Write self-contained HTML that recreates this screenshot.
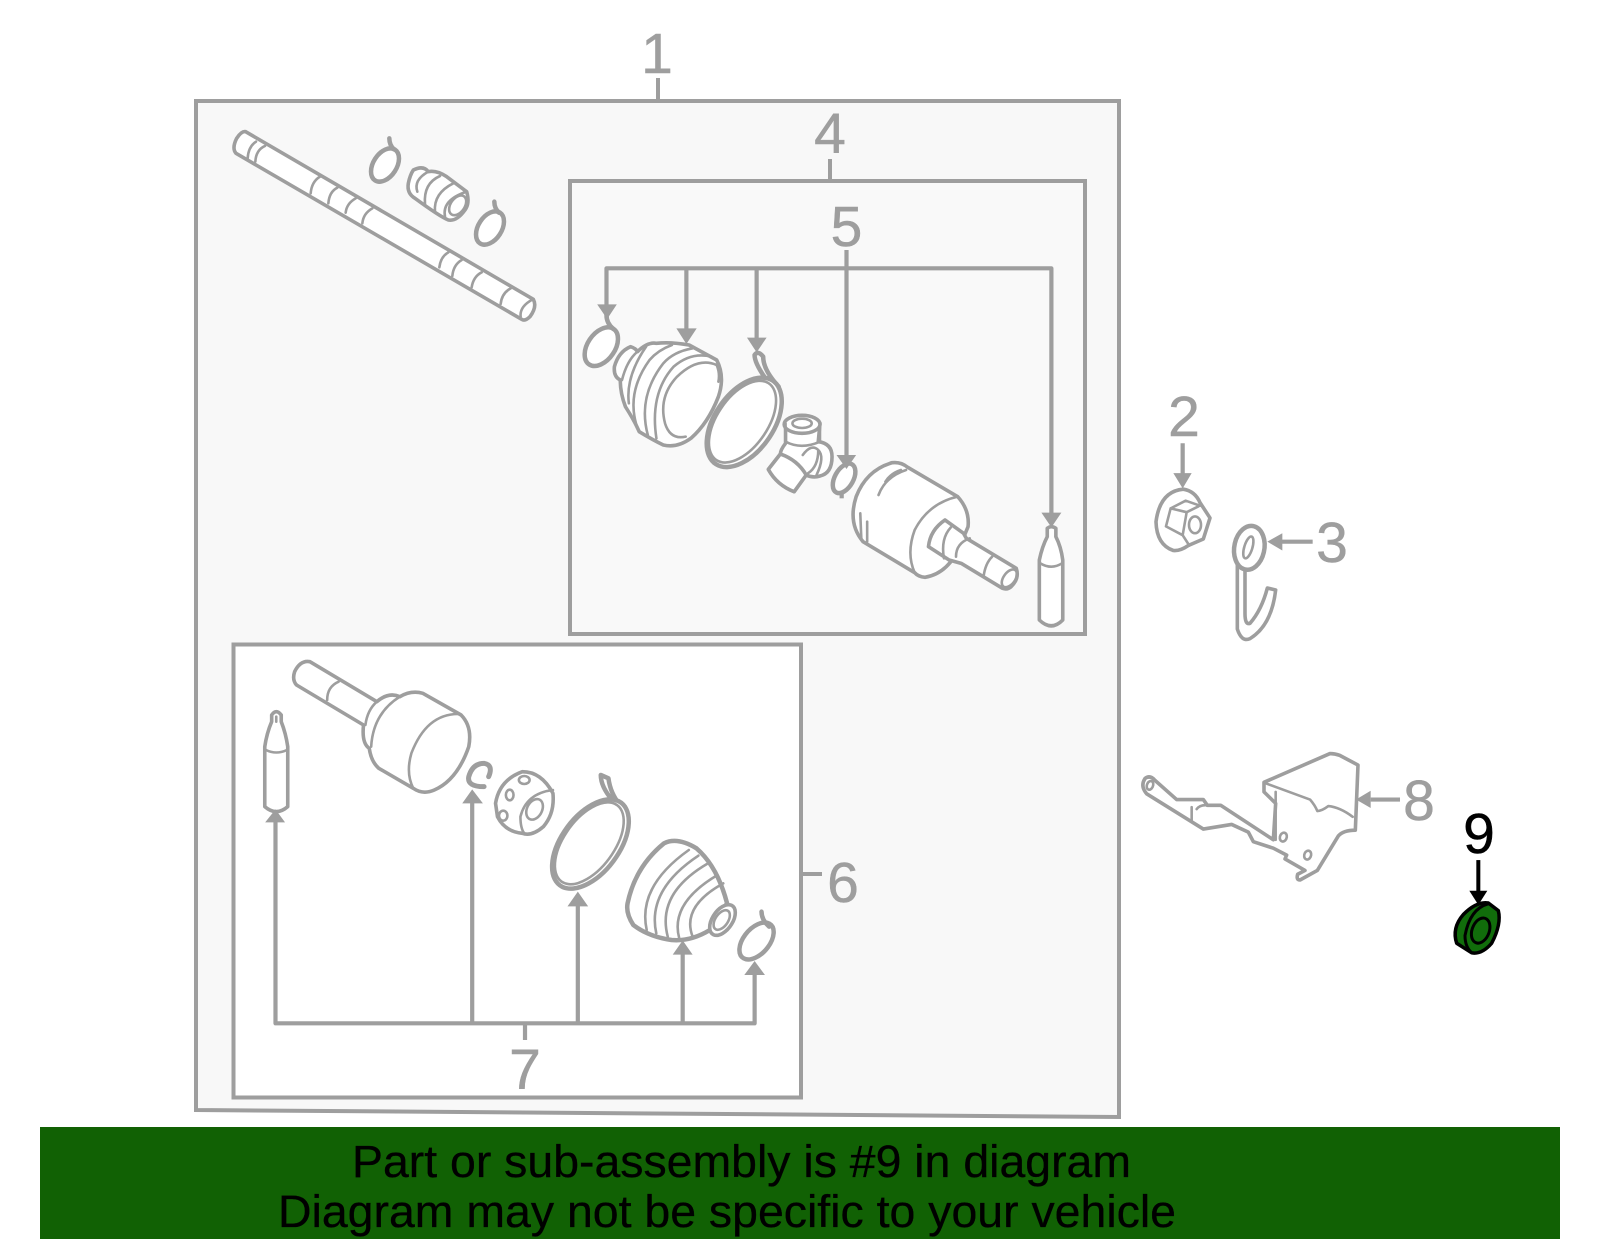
<!DOCTYPE html>
<html><head><meta charset="utf-8"><style>
html,body{margin:0;padding:0;background:#fff}
svg{display:block}
svg *{vector-effect:non-scaling-stroke}
.p *{fill:none;stroke:#9e9e9e;stroke-width:2.6;stroke-linejoin:round;stroke-linecap:round}
.p .o{fill:#fff;stroke-width:3.6}
.p .t{stroke-width:4.5}
.p .l{stroke-width:4.2;stroke-linecap:butt}
.p .a{fill:#9e9e9e;stroke:none}
text{font-family:"Liberation Sans",sans-serif}
.n{font-size:57px;fill:#9e9e9e;stroke:#9e9e9e;stroke-width:.5;text-anchor:middle}
</style></head><body>
<svg width="1600" height="1249" viewBox="0 0 1600 1249" xmlns="http://www.w3.org/2000/svg">
<rect width="1600" height="1249" fill="#fff"/>
<path d="M196 101H1119V1117L196 1110Z" fill="#f8f8f8" stroke="#9e9e9e" stroke-width="4"/>
<rect x="570" y="181" width="515" height="453" fill="#f9f9f9" stroke="#9e9e9e" stroke-width="4"/>
<rect x="233.5" y="644.5" width="567.5" height="453" fill="#fff" stroke="#9e9e9e" stroke-width="4"/>
<g stroke="#9e9e9e" stroke-width="4"><path d="M658 78V100M830 159V181M801 874H822" fill="none"/></g>

<g class="p" transform="translate(180 20) scale(.33333)">
<path class="o" d="M197 335L1060 838Q1072 860 1050 890Q1035 905 1025 898L168 400Q155 385 170 355Q185 332 197 335Z"/>
<path d="M203 415Q205 380 228 365M226 425Q228 390 255 378M392 520Q395 485 420 470M445 550Q448 515 472 503M497 578Q500 550 527 535M547 610Q550 580 577 565M778 742Q782 710 805 697M817 768Q820 735 845 720M875 802Q880 770 905 757M962 852Q965 820 992 805M1022 890Q1018 860 1058 838"/>
<ellipse class="o t" cx="615" cy="435" rx="35" ry="55" transform="rotate(33 615 435)"/>
<path class="t" d="M628 355Q628 375 642 388"/>
<ellipse class="o t" cx="930" cy="624" rx="35" ry="55" transform="rotate(33 930 624)"/>
<path class="t" d="M943 545Q943 565 957 578"/>
<path class="o" d="M700 450Q730 435 745 455Q770 450 800 470L860 515Q870 550 855 570Q830 605 805 600Q780 590 705 535Q680 520 685 490Q690 465 700 450Z"/>
<path d="M712 515Q700 480 745 455M735 552Q730 490 780 468M765 575Q760 520 820 490M795 590Q785 540 860 515"/>
<ellipse cx="833" cy="556" rx="21" ry="33" transform="rotate(35 833 556)" style="fill:#fff"/>
</g>

<g class="p" transform="translate(560 180) scale(.34435 .33333)">
<ellipse class="o t" cx="120" cy="500" rx="40" ry="64" transform="rotate(33 120 500)"/>
<path class="t" d="M135 405Q135 430 155 447"/>
<path class="o" d="M158 560Q170 515 205 500Q220 505 225 515Q255 485 280 490Q320 485 375 495L455 540Q480 590 460 650Q430 730 380 775Q340 805 300 795Q270 780 230 755Q215 720 190 680Q175 640 175 600Q155 590 158 560Z"/>
<path d="M280 775Q260 640 330 560Q380 515 440 530M365 770Q320 780 305 730Q285 650 340 590Q400 530 455 555Q465 580 460 605M255 765Q225 650 300 550Q330 515 385 505M225 745Q190 640 260 540Q285 510 325 495M200 670Q190 590 250 500M180 600Q195 540 225 515"/>
<path class="t" d="M600 600Q565 550 565 525Q575 510 590 530Q590 570 635 620"/>
<ellipse class="o t" cx="535" cy="727" rx="86" ry="150" transform="rotate(33 535 727)"/>
<ellipse cx="530" cy="725" rx="74" ry="138" transform="rotate(33 530 725)"/>
<path class="o" d="M655 790Q640 810 640 822L605 868Q630 915 680 935L715 885Q735 895 755 888Q790 880 790 830Q790 790 750 785L755 730H655Z"/>
<path class="o" d="M640 822L605 868Q630 915 680 935L715 885Q690 840 640 822Z"/>
<ellipse class="o" cx="703" cy="733" rx="52" ry="27"/>
<ellipse cx="703" cy="730" rx="28" ry="14"/>
<path d="M655 730V785Q700 810 755 785V730M705 825Q730 790 750 810Q750 860 720 880M750 810Q770 830 745 885"/>
<ellipse class="o t" cx="825" cy="895" rx="27" ry="48" transform="rotate(28 825 895)"/>
<path class="l" d="M818 935V955"/>
<path class="o" d="M880 1085Q835 1030 860 950Q890 870 965 848Q990 845 1010 862L1155 950Q1190 990 1185 1040L1165 1090Q1130 1180 1060 1192Q1040 1190 1030 1178Z"/>
<path d="M1155 950Q1070 970 1030 1050Q1005 1120 1030 1178M925 945Q945 890 1005 870M945 905Q960 880 990 870M872 1000L875 1075M892 1025V1085"/>
<path class="o" d="M1070 1100Q1075 1050 1118 1020L1172 1060L1180 1075L1325 1165Q1335 1195 1310 1220Q1300 1230 1285 1225L1165 1150L1130 1140Z"/>
<path d="M1135 1042Q1105 1075 1115 1135M1150 1130Q1150 1090 1190 1075M1230 1190Q1235 1150 1255 1130"/>
<ellipse cx="1305" cy="1195" rx="17" ry="30" transform="rotate(35 1305 1195)"/>
<path class="o" d="M1392 1320V1140Q1400 1100 1415 1070V1045Q1427 1035 1440 1045V1070Q1455 1100 1460 1140V1320Q1427 1355 1392 1320Z"/>
<path d="M1395 1150Q1427 1170 1458 1150"/>
<path class="l" d="M135 380V265H1427V1003M367 265V450M571 265V478M832 210V830"/>
<path class="a" d="M108 373H165L137 417ZM338 445H397L367 492ZM543 473H600L571 517ZM803 825H860L832 867ZM1398 998H1456L1427 1042Z"/>
</g>

<g class="p" transform="translate(220 640) scale(.38270 .33333)">
<path class="o" d="M117 500V320Q122 280 135 245V225Q147 205 160 225V245Q172 280 177 320V500Q147 530 117 500Z"/>
<path d="M120 330Q147 345 175 330M147 230V245"/>
<path class="o" d="M195 95Q210 60 235 65L410 185Q440 155 470 170Q500 150 530 160L630 225Q660 260 650 320Q620 420 560 450Q530 465 505 445L415 385Q395 365 390 325Q370 310 375 255L200 135Q188 120 195 95Z"/>
<path d="M280 180Q280 140 310 125M625 222Q540 220 500 340Q485 400 505 445M395 320Q400 220 470 170M380 255Q385 210 410 185"/>
<path style="stroke-width:5" d="M690 440Q645 440 650 410Q660 370 690 370Q715 375 702 410"/>
<path class="o" d="M720 490Q730 420 790 395Q840 395 870 460Q875 520 845 560Q815 590 790 580Q745 575 725 530Z"/>
<path d="M870 450Q800 460 785 530Q785 565 795 580"/>
<ellipse cx="795" cy="420" rx="14" ry="12"/><ellipse cx="757" cy="465" rx="10" ry="16"/><ellipse cx="740" cy="527" rx="11" ry="15"/>
<ellipse cx="822" cy="508" rx="20" ry="32" transform="rotate(20 822 508)"/>
<path class="t" d="M1025 480Q995 440 995 405L1015 415Q1020 460 1045 495"/>
<ellipse class="o t" cx="968" cy="612" rx="78" ry="148" transform="rotate(30 968 612)"/>
<ellipse cx="965" cy="610" rx="68" ry="136" transform="rotate(30 965 610)"/>
<path class="o t" d="M1065 790Q1085 680 1160 610Q1195 590 1245 625Q1300 680 1325 790L1280 870Q1230 905 1180 900Q1120 890 1080 855Q1060 820 1065 790Z"/>
<path d="M1115 870Q1090 740 1225 630M1140 880Q1115 750 1250 647M1170 890Q1140 760 1275 670M1200 895Q1175 790 1300 705M1235 890Q1205 800 1315 730"/>
<ellipse class="o" cx="1313" cy="840" rx="27" ry="50" transform="rotate(28 1313 840)"/>
<ellipse cx="1311" cy="840" rx="17" ry="32" transform="rotate(28 1311 840)"/>
<ellipse class="o t" cx="1402" cy="903" rx="35" ry="62" transform="rotate(33 1402 903)"/>
<path class="t" d="M1415 815Q1415 840 1435 860"/>
<path class="l" d="M145 540V1150H1397V1000M659 485V1150M935 795V1150M1209 940V1150M797 1150V1200"/>
<path class="a" d="M118 547H170L145 508ZM633 490H687L659 448ZM908 799H962L935 755ZM1183 944H1235L1209 901ZM1370 1005H1424L1397 963Z"/>
</g>

<g class="p" transform="translate(1130 380) scale(.33333 .38314)">
<path class="l" d="M158 165V245M455 422H548M722 1095H810"/>
<path class="a" d="M130 243H185L158 283ZM412 422L457 400V445ZM678 1095L722 1072V1117Z"/>
<path class="o" d="M130 445Q80 430 78 370Q90 290 160 285Q195 290 210 320L240 360L220 415L175 432Q150 447 130 445Z"/>
<path d="M108 382L122 335L167 315L210 328M122 335L170 345L205 330M170 345L158 405L108 382M158 405L178 432"/>
<ellipse cx="195" cy="378" rx="18" ry="22"/>
<path class="o" d="M322 480V650Q335 685 360 675Q425 640 437 548L412 543Q395 600 360 635Q345 640 345 610V497Z"/>
<ellipse class="o t" cx="358" cy="438" rx="45" ry="58" transform="rotate(15 358 438)"/>
<ellipse cx="355" cy="437" rx="12" ry="30" transform="rotate(20 355 437)"/>
<path class="o" d="M402 1050L600 975Q615 975 630 980L684 1005L676 1175Q640 1175 625 1190L562 1280L510 1305Q498 1305 503 1290L525 1280L465 1250L470 1240L430 1222L370 1205L355 1180L305 1160L220 1172L50 1080Q30 1060 45 1040Q60 1030 75 1045L140 1095H220L232 1110H272L430 1200L437 1105L402 1075Z"/>
<path d="M405 1052L540 1095Q555 1110 562 1125Q575 1125 595 1112Q630 1115 668 1140M437 1075V1200M185 1115V1150M200 1120Q210 1108 232 1110"/>
<ellipse cx="460" cy="1193" rx="10" ry="12" transform="rotate(30 460 1193)"/>
<ellipse cx="533" cy="1240" rx="10" ry="12" transform="rotate(30 533 1240)"/>
<ellipse cx="60" cy="1058" rx="9" ry="12" transform="rotate(30 60 1058)"/>
<path style="stroke:#000;stroke-width:4;stroke-linecap:butt" d="M1045 1253V1335"/>
<path style="fill:#000;stroke:none" d="M1018 1333H1072L1045 1370Z"/>
<path style="fill:#116d0b;stroke:#000;stroke-width:3.5" d="M1000 1395Q1040 1360 1075 1365L1105 1385Q1115 1420 1085 1470Q1055 1500 1025 1495L980 1470Q965 1430 1000 1395Z"/>
<path style="stroke:#000;stroke-width:3" d="M1075 1367Q1020 1380 1005 1450Q1005 1480 1025 1495"/>
<ellipse style="stroke:#000;stroke-width:3" cx="1052" cy="1437" rx="25" ry="35" transform="rotate(30 1052 1437)"/>
</g>

<g>
<text class="n" x="657" y="73">1</text>
<text class="n" x="1184" y="436">2</text>
<text class="n" x="1332" y="562">3</text>
<text class="n" x="830" y="153">4</text>
<text class="n" x="846.5" y="246">5</text>
<text class="n" x="843" y="902">6</text>
<text class="n" x="525" y="1089">7</text>
<text class="n" x="1419" y="820">8</text>
<text class="n" x="1479" y="853" style="fill:#000;stroke:#000">9</text>
</g>
<rect x="40" y="1127" width="1520" height="112" fill="#116104"/>
<text x="352" y="1177" font-size="45" textLength="779" lengthAdjust="spacingAndGlyphs" fill="#000" stroke="#000" stroke-width=".3">Part or sub-assembly is #9 in diagram</text>
<text x="278" y="1227" font-size="45" textLength="898" lengthAdjust="spacingAndGlyphs" fill="#000" stroke="#000" stroke-width=".3">Diagram may not be specific to your vehicle</text>
</svg>
</body></html>
